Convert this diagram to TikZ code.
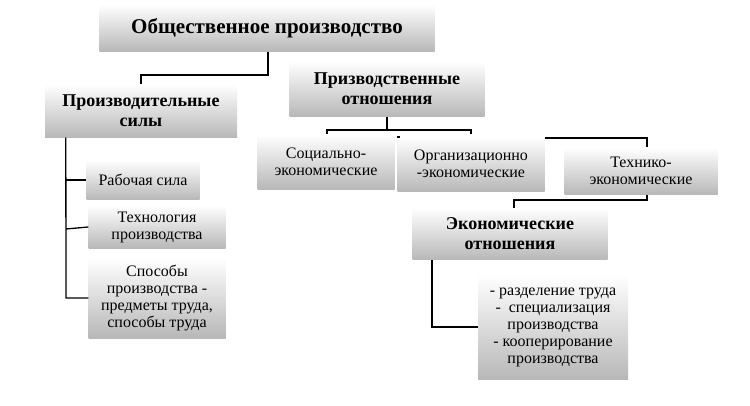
\documentclass[tikz,border=0pt]{standalone}
\usepackage{fontspec}
\setmainfont{Liberation Serif}
\usetikzlibrary{positioning}

\begin{document}
\begin{tikzpicture}[
  x=1pt, y=-1pt,
  box/.style={rectangle, top color=white, bottom color=black!28, inner sep=1pt, align=center, font=\fontsize{16}{17}\selectfont},
  head/.style={box, font=\fontsize{18}{20}\selectfont\bfseries},
  link/.style={line width=1.3pt}
]
  \useasboundingbox (0,0) rectangle (750,406);
  % Top level
  \node[head, minimum width=335, minimum height=47, font=\fontsize{21}{23}\selectfont\bfseries] (prod) at (267,28) {Общественное производство};
  \node[head, minimum width=192, minimum height=53] (forces) at (141,111) {Производительные\\силы};
  \node[head, minimum width=195, minimum height=55] (rel) at (387,89) {Призводственные\\отношения};

  % Relations
  \node[box, minimum width=137, minimum height=55] (soc) at (326,162) {Социально-\\экономические};
  \node[box, minimum width=147, minimum height=55] (org) at (471,164) {Организационно\\-экономические};
  \node[box, minimum width=153, minimum height=47] (tech) at (641,171) {Технико-\\экономические};
  \node[head, minimum width=195, minimum height=52] (econ) at (510,234) {Экономические\\отношения};
  \node[box, minimum width=150, minimum height=105] (list) at (553,327) {- разделение труда\\-\ \ специализация\\производства\\- кооперирование\\производства};

  % Forces
  \node[box, minimum width=113, minimum height=40] (labor) at (143,180) {Рабочая сила};
  \node[box, minimum width=137, minimum height=43] (techn) at (157,227) {Технология\\производства};
  \node[box, minimum width=137, minimum height=80] (ways) at (157,298) {Способы\\производства -\\предметы труда,\\способы труда};

  % Connectors
  \draw[link] (prod.south) ++(1,0) |- (141,75) -- (forces.north);
  \draw[link] (forces.south west) ++(21,0) coordinate (fl) -- (66,298) -- (ways.west);
  \draw[link] (66,180) -- (labor.west);
  \draw[link] (66,229) -- (techn.west);
  \draw[link] (rel.south) -- (387,130);
  \draw[link] (327,134) -- (327,130) -- (471,130) -- (471,134);
  \draw[link] (545,138) -- (647,138) -- (tech.north -| 647,0);
  \draw[link] (397,137) -- (400,137);
  \draw[link] (tech.south -| 647,0) -- (647,200) -- (514,200) -- (econ.north -| 514,0);
  \draw[link] (econ.south -| 432,0) |- (list.west);
\end{tikzpicture}
\end{document}
